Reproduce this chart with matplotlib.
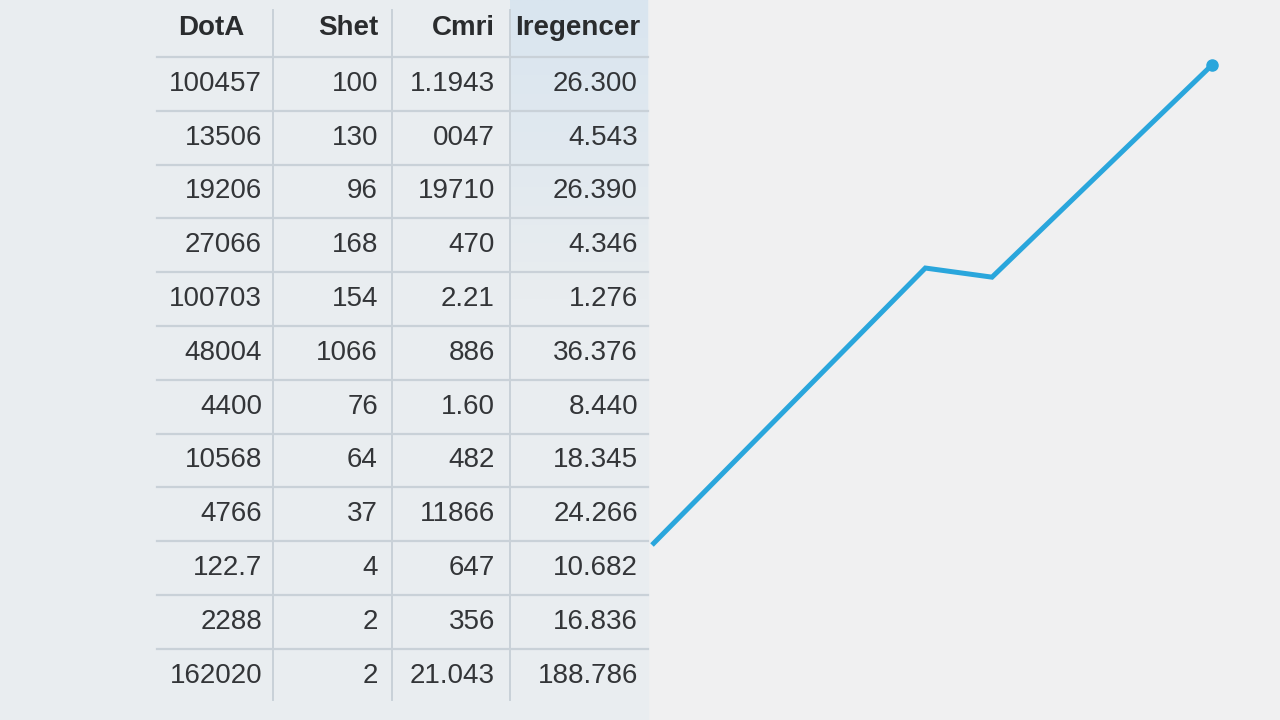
import numpy as np
import matplotlib
matplotlib.use("Agg")
import matplotlib.pyplot as plt

# ---- data ----
headers = ["DotA", "Shet", "Cmri", "Iregencer"]
col_data = ["100457", "13506", "19206", "27066", "100703", "48004",
            "4400", "10568", "4766", "122.7", "2288", "162020"]
col_shet = ["100", "130", "96", "168", "154", "1066",
            "76", "64", "37", "4", "2", "2"]
col_cmri = ["1.1943", "0047", "19710", "470", "2.21", "886",
            "1.60", "482", "11866", "647", "356", "21.043"]
col_ireg = ["26.300", "4.543", "26.390", "4.346", "1.276", "36.376",
            "8.440", "18.345", "24.266", "10.682", "16.836", "188.786"]

line_x = [0, 41, 51, 84]
line_y = [0, 57.7, 55.8, 100]

# ---- figure ----
W, H = 1280, 720
fig = plt.figure(figsize=(12.8, 7.2), dpi=100)
fig.patch.set_facecolor("#f0f0f1")

# table axes in pixel space
tax = fig.add_axes([0, 0, 1, 1])
tax.set_xlim(0, W)
tax.set_ylim(H, 0)
tax.axis("off")

# table panel background
tax.add_patch(plt.Rectangle((0, 0), 648, H, color="#e9edf0", zorder=0))
# bluish gradient in 4th column
grad = np.linspace(1, 0, 200).reshape(-1, 1)
cmap = matplotlib.colors.LinearSegmentedColormap.from_list(
    "g", ["#e9edf0", "#d9e5ef"])
tax.imshow(grad, extent=(510, 648, 300, 0), cmap=cmap, aspect="auto",
           zorder=0.5, vmin=0, vmax=1)

line_col = "#c9d1d8"
row_h = 53.8
y_first_line = 57
nrows = len(col_data)
for i in range(nrows + 1):
    y = y_first_line + i * row_h
    if i == nrows:
        break
    tax.plot([157, 648], [y, y], color=line_col, lw=1.6, zorder=1)
for x in [273, 392, 510]:
    tax.plot([x, x], [10, 700], color=line_col, lw=1.4, zorder=1)

# headers
hdr_font = dict(fontsize=20, fontweight="bold", color="#2a2c2e",
                family="Liberation Sans", va="center")
tax.text(211, 28, headers[0], ha="center", **hdr_font)
tax.text(378, 28, headers[1], ha="right", **hdr_font)
tax.text(495, 28, headers[2], ha="right", **hdr_font)
tax.text(640, 28, headers[3], ha="right", **hdr_font)

cell_font = dict(fontsize=20, color="#333538", family="Liberation Sans",
                 va="center")
right_x = [262, 378, 495, 638]
cols = [col_data, col_shet, col_cmri, col_ireg]
for i in range(nrows):
    yc = y_first_line + i * row_h + row_h / 2
    for cx, col in zip(right_x, cols):
        tax.text(cx, yc, col[i], ha="right", **cell_font)

# line chart axes
lax = fig.add_axes([652 / W, (H - 545) / H, (1212 - 652) / W, (545 - 65) / H])
lax.set_xlim(0, 84)
lax.set_ylim(0, 100)
lax.axis("off")
lax.patch.set_alpha(0)
lax.plot(line_x, line_y, color="#2aa6dc", lw=3.6, solid_capstyle="butt",
         solid_joinstyle="miter", clip_on=False)
lax.plot(line_x[-1:], line_y[-1:], "o", color="#2aa6dc", ms=8, clip_on=False)

fig.savefig("out.png", dpi=100, facecolor=fig.get_facecolor())
